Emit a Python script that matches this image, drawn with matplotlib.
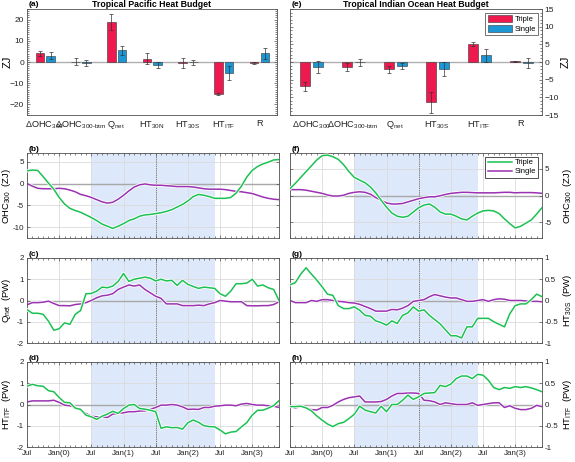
import numpy as np
import matplotlib.pyplot as plt
import matplotlib.patheffects as pe
from matplotlib.ticker import MultipleLocator

plt.rcParams['font.family'] = ['Liberation Sans', 'DejaVu Sans']
plt.rcParams['mathtext.default'] = 'regular'
plt.rcParams['font.size'] = 5.5

# ---- bar chart data (ZJ) ----
pac_names = [r'$\Delta$OHC$_{300}$', r'$\Delta$OHC$_{300\text{-}btm}$', 'Q$_{net}$',
             'HT$_{30N}$', 'HT$_{30S}$', 'HT$_{ITF}$', 'R']
pac_triple = [4.2, 0.2, 19.0, 1.6, -0.6, -15.2, -0.6]
pac_triple_err = [1.2, 1.8, 3.8, 2.7, 2.4, 0.5, 0.5]
pac_single = [2.9, -0.65, 5.5, -1.6, -0.2, -5.2, 4.2]
pac_single_err = [1.6, 1.45, 2.1, 1.4, 1.2, 3.4, 2.6]

ind_names = [r'$\Delta$OHC$_{300}$', r'$\Delta$OHC$_{300\text{-}btm}$', 'Q$_{net}$',
             'HT$_{30S}$', 'HT$_{ITF}$', 'R']
ind_triple = [-6.9, -1.5, -2.1, -11.4, 5.0, 0.2]
ind_triple_err = [1.3, 1.1, 1.0, 3.0, 0.6, 0.1]
ind_single = [-1.35, -0.1, -1.05, -1.9, 1.9, -0.4]
ind_single_err = [1.65, 0.9, 0.8, 2.0, 1.9, 1.4]

# ---- monthly time series, Jul(-1) .. Jun(3) ----
months = np.arange(48)
tick_pos = [0, 6, 12, 18, 24, 30, 36, 42]
tick_lab = ['Jul', 'Jan(0)', 'Jul', 'Jan(1)', 'Jul', 'Jan(2)', 'Jul', 'Jan(3)']

ohc_pac_triple = [2.9, 3.1, 3.0, 1.6, 0.1, -1.3, -3.2, -4.7, -5.7, -6.2, -6.6, -7.2,
                  -7.8, -8.5, -9.3, -9.8, -10.3, -9.8, -9.2, -8.5, -8.1, -7.5, -7.2, -7.1,
                  -6.9, -6.7, -6.4, -6.0, -5.4, -4.8, -4.0, -3.0, -2.5, -2.7, -3.0, -3.4,
                  -3.4, -3.4, -3.2, -2.2, -0.6, 1.5, 3.0, 3.9, 4.5, 4.9, 5.4, 5.5]
ohc_pac_single = [0.0, -0.6, -1.1, -1.2, -1.2, -1.2, -1.1, -1.2, -1.5, -1.9, -2.5, -2.8,
                  -3.2, -3.7, -4.2, -4.5, -4.3, -3.6, -2.7, -1.7, -0.8, -0.3, -0.1, -0.3,
                  -0.4, -0.4, -0.5, -0.6, -0.7, -0.7, -0.7, -0.8, -1.0, -1.2, -1.3, -1.3,
                  -1.3, -1.4, -1.6, -1.8, -1.9, -2.1, -2.3, -2.7, -3.1, -3.4, -3.6, -3.7]

q_pac_triple = [-0.43, -0.6, -0.6, -0.65, -0.97, -1.4, -1.33, -1.05, -1.12, -0.65, -0.47, 0.32,
                0.33, 0.44, 0.63, 0.6, 0.68, 0.9, 1.27, 0.9, 1.0, 1.05, 1.1, 1.05,
                0.92, 1.0, 0.92, 0.95, 0.71, 0.95, 0.76, 0.66, 0.57, 0.63, 0.6, 0.57,
                0.32, 0.2, 0.44, 0.79, 0.79, 0.82, 1.0, 0.68, 0.73, 0.6, 0.52, 0.0]
q_pac_single = [-0.2, -0.1, -0.1, -0.08, -0.03, -0.14, -0.24, -0.24, -0.25, -0.19, -0.16, -0.1,
                0.0, 0.13, 0.22, 0.25, 0.32, 0.52, 0.63, 0.73, 0.68, 0.73, 0.52, 0.36,
                0.2, 0.1, -0.16, -0.16, -0.16, -0.24, -0.24, -0.24, -0.22, -0.24, -0.16, -0.1,
                0.0, -0.03, -0.06, -0.06, -0.06, -0.24, -0.25, -0.25, -0.24, -0.24, -0.19, -0.06]

itf_pac_triple = [0.86, 0.95, 0.88, 0.86, 0.65, 0.6, 0.33, 0.1, 0.08, -0.17, -0.23, -0.5,
                  -0.58, -0.7, -0.55, -0.45, -0.32, -0.42, -0.19, -0.03, 0.0, -0.19, -0.22, -0.27,
                  -0.34, -1.12, -1.05, -1.09, -1.08, -1.16, -0.86, -0.73, -0.84, -1.0, -1.04, -1.05,
                  -1.2, -1.38, -1.3, -1.27, -1.05, -0.85, -0.5, -0.27, -0.27, -0.17, -0.05, 0.18]
itf_pac_single = [0.12, 0.17, 0.17, 0.17, 0.17, 0.2, 0.1, -0.03, -0.06, -0.14, -0.27, -0.42,
                  -0.55, -0.58, -0.58, -0.61, -0.45, -0.42, -0.39, -0.34, -0.34, -0.31, -0.3, -0.23,
                  -0.14, -0.03, -0.03, 0.0, -0.03, -0.11, -0.23, -0.22, -0.23, -0.14, -0.14, -0.08,
                  -0.06, -0.03, -0.03, -0.06, 0.02, 0.05, 0.0, -0.03, -0.03, -0.06, -0.08, -0.14]

ohc_ind_triple = [1.3, 2.3, 3.4, 4.5, 5.6, 6.7, 7.5, 7.6, 7.3, 6.8, 5.8, 4.5,
                  3.4, 2.9, 2.4, 1.6, 0.5, -0.9, -2.2, -3.3, -3.9, -4.1, -3.9, -3.1,
                  -2.3, -1.8, -1.6, -2.2, -3.1, -3.5, -3.5, -3.9, -4.4, -4.6, -3.9, -3.3,
                  -2.9, -2.8, -2.9, -3.4, -4.4, -5.3, -6.1, -5.8, -5.2, -4.6, -3.5, -2.3]
ohc_ind_single = [1.1, 1.1, 1.1, 1.0, 0.8, 0.6, 0.4, 0.1, -0.1, -0.1, 0.05, 0.4,
                  0.6, 0.7, 0.6, 0.25, -0.4, -0.9, -1.4, -1.6, -1.6, -1.5, -1.2, -0.9,
                  -0.6, -0.4, -0.25, -0.25, -0.05, 0.2, 0.4, 0.5, 0.6, 0.6, 0.55, 0.5,
                  0.5, 0.5, 0.5, 0.55, 0.6, 0.6, 0.5, 0.55, 0.55, 0.55, 0.5, 0.4]

ht30s_ind_triple = [0.37, 0.42, 0.62, 0.77, 0.62, 0.48, 0.32, 0.15, 0.12, -0.12, -0.19, -0.19,
                    -0.15, -0.23, -0.35, -0.37, -0.48, -0.52, -0.58, -0.48, -0.54, -0.35, -0.29, -0.15,
                    -0.25, -0.22, -0.35, -0.45, -0.55, -0.69, -0.83, -0.83, -0.88, -0.62, -0.62, -0.42,
                    -0.42, -0.42, -0.5, -0.56, -0.62, -0.31, -0.12, -0.08, -0.08, 0.02, 0.15, 0.09]
ht30s_ind_single = [0.0, -0.05, -0.05, -0.05, 0.0, -0.02, 0.02, 0.02, 0.0, -0.02, -0.03, -0.05,
                    -0.06, -0.09, -0.14, -0.19, -0.25, -0.25, -0.25, -0.21, -0.22, -0.18, -0.12, -0.02,
                    0.0, 0.02, 0.09, 0.14, 0.11, 0.08, 0.06, 0.06, 0.02, -0.02, -0.02, 0.0,
                    0.02, -0.02, 0.02, 0.04, 0.03, 0.0, 0.0, 0.0, -0.01, -0.02, -0.02, -0.03]

itf_ind_triple = [-0.05, -0.05, -0.04, -0.08, -0.15, -0.27, -0.37, -0.46, -0.52, -0.45, -0.42, -0.33,
                  -0.23, -0.04, -0.13, -0.17, -0.2, -0.04, -0.17, 0.0, 0.0, 0.1, 0.22, 0.12,
                  0.18, 0.26, 0.27, 0.28, 0.45, 0.42, 0.48, 0.61, 0.67, 0.67, 0.61, 0.71,
                  0.69, 0.57, 0.4, 0.35, 0.4, 0.38, 0.42, 0.4, 0.42, 0.39, 0.35, 0.3]
itf_ind_single = [-0.05, -0.08, -0.05, -0.08, -0.12, -0.13, -0.07, -0.07, -0.02, 0.06, 0.12, 0.16,
                  0.18, 0.2, 0.06, 0.06, 0.06, 0.07, 0.12, 0.2, 0.26, 0.26, 0.27, 0.27,
                  0.26, 0.1, 0.09, 0.06, 0.0, 0.04, 0.02, 0.0, 0.0, 0.0, 0.04, -0.02,
                  0.0, 0.02, 0.04, 0.04, -0.07, -0.03, -0.09, -0.12, -0.12, -0.09, -0.02, -0.05]

red = '#EE1A4F'
blue = '#1C97D6'
green = '#1BC152'
purple = '#9A32B2'
spine_col = '#505050'

fig = plt.figure(figsize=(5.75, 4.62), dpi=100)

W, H = 575.0, 462.0
def box(l, t, r, b):
    return [l / W, 1 - b / H, (r - l) / W, (b - t) / H]

def style(ax, lsize=5.5):
    for s in ax.spines.values():
        s.set_color(spine_col)
        s.set_linewidth(0.6)
    ax.tick_params(which='both', direction='in', top=True, right=True, colors=spine_col,
                   labelcolor='#222222', labelsize=lsize, width=0.5, pad=2)
    ax.tick_params(which='major', length=2.5)
    ax.tick_params(which='minor', length=1.3)


def bar_panel(ax, names, tr, tre, si, sie, ylim, title, lab, right=False, legend=False):
    x = np.arange(1, len(names) + 1)
    ax.axhline(0, color='#B0B0B0', lw=1.0, zorder=1)
    ax.bar(x - 0.14, tr, 0.24, color=red, edgecolor='#333333', lw=0.4, label='Triple', zorder=2)
    ax.bar(x + 0.16, si, 0.24, color=blue, edgecolor='#333333', lw=0.4, label='Single', zorder=2)
    ax.errorbar(x - 0.14, tr, yerr=tre, fmt='none', ecolor='#333333', elinewidth=0.5,
                capsize=1.5, capthick=0.5, zorder=3)
    ax.errorbar(x + 0.16, si, yerr=sie, fmt='none', ecolor='#333333', elinewidth=0.5,
                capsize=1.5, capthick=0.5, zorder=3)
    ax.set_xlim(0.5, len(names) + 0.5)
    ax.set_ylim(*ylim)
    ax.set_xticks(x)
    style(ax, 6)
    ax.set_xticklabels(names, fontsize=6.6)
    ax.yaxis.set_minor_locator(MultipleLocator(1))
    ax.tick_params(axis='x', which='both', top=False, bottom=False, pad=3)
    ax.set_title(title, fontsize=6.3, fontweight='bold', pad=1.5)
    ax.text(0.005, 1.012, lab, transform=ax.transAxes, fontsize=6, fontweight='bold',
            va='bottom', ha='left')
    ax.set_ylabel('ZJ', fontsize=8)
    if right:
        ax.yaxis.tick_right()
        ax.yaxis.set_label_position('right')
        ax.tick_params(which='both', left=True)
        ax.yaxis.set_label_coords(1.075, 0.5)
    else:
        ax.yaxis.set_label_coords(-0.056, 0.5)
    if legend:
        lg = ax.legend(loc='upper right', fontsize=5.5, frameon=True, fancybox=False,
                       edgecolor='#333333', handlelength=3.2, handleheight=1.1,
                       borderpad=0.3, labelspacing=0.2, handletextpad=0.3)
        lg.get_frame().set_linewidth(0.6)


ax_a = fig.add_axes(box(27, 9, 277, 115))
bar_panel(ax_a, pac_names, pac_triple, pac_triple_err, pac_single, pac_single_err,
          (-25, 25), 'Tropical Pacific Heat Budget', '(a)')
ax_a.set_yticks([-20, -10, 0, 10, 20])

ax_e = fig.add_axes(box(290, 9, 542, 115))
bar_panel(ax_e, ind_names, ind_triple, ind_triple_err, ind_single, ind_single_err,
          (-15, 15), 'Tropical Indian Ocean Heat Budget', '(e)', right=True, legend=True)
ax_e.set_yticks([-15, -10, -5, 0, 5, 10, 15])

halo = [pe.Stroke(linewidth=2.3, foreground='white'), pe.Normal()]

def ts_panel(ax, tr, si, ylim, yticks, ylabel, lab, right=False, bottom=False, legend=False):
    ax.axvspan(12, 35, color='#DDE8FA', lw=0, zorder=0)
    for xt in tick_pos:
        ax.axvline(xt, color='#DADADA', lw=0.6, zorder=0.5)
    for yt in yticks:
        ax.axhline(yt, color='#DADADA', lw=0.6, zorder=0.5)
    ax.axhline(0, color='#A8A8A8', lw=1.0, zorder=0.8)
    ax.axvline(24, color='#555555', lw=0.6, ls=(0, (1, 1.2)), zorder=0.9)
    ax.plot(months, tr, color=green, lw=1.1, label='Triple', path_effects=halo, zorder=3)
    ax.plot(months, si, color=purple, lw=1.1, label='Single', path_effects=halo, zorder=2)
    ax.set_xlim(0, 47)
    ax.set_ylim(*ylim)
    ax.set_yticks(yticks)
    ax.set_yticklabels([('%g' % v) for v in yticks])
    ax.set_xticks(tick_pos)
    ax.xaxis.set_minor_locator(MultipleLocator(1))
    style(ax, 5.8)
    if bottom:
        ax.set_xticklabels(tick_lab, fontsize=5.8)
    else:
        ax.set_xticklabels([])
    ax.text(0.005, 1.005, lab, transform=ax.transAxes, fontsize=6, fontweight='bold',
            va='bottom', ha='left')
    ax.set_ylabel(ylabel, fontsize=6.8)
    if right:
        ax.yaxis.tick_right()
        ax.yaxis.set_label_position('right')
        ax.tick_params(which='both', left=True)
        ax.yaxis.set_label_coords(1.075, 0.5)
    else:
        ax.yaxis.set_label_coords(-0.056, 0.5)
    if legend:
        lg = ax.legend(loc='upper right', fontsize=5.5, frameon=True, fancybox=False,
                       edgecolor='#333333', handlelength=3.2, borderpad=0.3,
                       labelspacing=0.2, handletextpad=0.3, framealpha=1)
        lg.get_frame().set_linewidth(0.6)


rows = [(153, 238), (258, 343), (362, 447)]

ax_b = fig.add_axes(box(27, rows[0][0], 279, rows[0][1]))
ts_panel(ax_b, ohc_pac_triple, ohc_pac_single, (-12.5, 7), [-10, -5, 0, 5],
         'OHC$_{300}$  (ZJ)', '(b)')
ax_c = fig.add_axes(box(27, rows[1][0], 279, rows[1][1]))
ts_panel(ax_c, q_pac_triple, q_pac_single, (-2, 2), [-2, -1, 0, 1, 2],
         'Q$_{net}$  (PW)', '(c)')
ax_d = fig.add_axes(box(27, rows[2][0], 279, rows[2][1]))
ts_panel(ax_d, itf_pac_triple, itf_pac_single, (-2, 2), [-2, -1, 0, 1, 2],
         'HT$_{ITF}$  (PW)', '(d)', bottom=True)

ax_f = fig.add_axes(box(290, rows[0][0], 542, rows[0][1]))
ts_panel(ax_f, ohc_ind_triple, ohc_ind_single, (-8, 8), [-5, 0, 5],
         'OHC$_{300}$  (ZJ)', '(f)', right=True, legend=True)
ax_g = fig.add_axes(box(290, rows[1][0], 542, rows[1][1]))
ts_panel(ax_g, ht30s_ind_triple, ht30s_ind_single, (-1, 1), [-1, -0.5, 0, 0.5, 1],
         'HT$_{30S}$  (PW)', '(g)', right=True)
ax_h = fig.add_axes(box(290, rows[2][0], 542, rows[2][1]))
ts_panel(ax_h, itf_ind_triple, itf_ind_single, (-1, 1), [-1, -0.5, 0, 0.5, 1],
         'HT$_{ITF}$  (PW)', '(h)', right=True, bottom=True)

fig.savefig('out.png', dpi=100)
